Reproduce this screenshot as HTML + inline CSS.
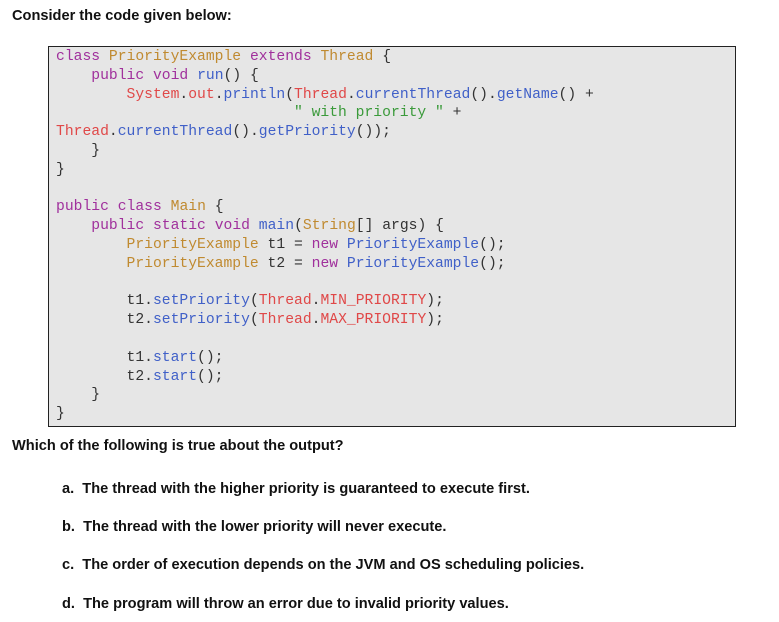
<!DOCTYPE html>
<html><head><style>
body{margin:0;width:779px;height:622px;background:#fff;position:relative;font-family:"Liberation Sans",sans-serif;}
.t{position:absolute;font-weight:bold;font-size:14.6px;color:#111;white-space:nowrap;line-height:18px}
#box{position:absolute;left:48px;top:46px;width:686px;height:379px;border:1px solid #222;background:#e6e6e6;}
pre{margin:0;position:absolute;left:7px;top:1px;font-family:"Liberation Mono",monospace;font-size:14.7px;line-height:18.8px;color:#333}
.k{color:#a0309c}.c{color:#c08a30}.r{color:#e04848}.b{color:#4060c8}.g{color:#3a9a3a}
</style></head><body>
<div class="t" style="left:12px;top:7px">Consider the code given below:</div>
<div id="box"><pre><span class="k">class</span> <span class="c">PriorityExample</span> <span class="k">extends</span> <span class="c">Thread</span> {
    <span class="k">public</span> <span class="k">void</span> <span class="b">run</span>() {
        <span class="r">System</span>.<span class="r">out</span>.<span class="b">println</span>(<span class="r">Thread</span>.<span class="b">currentThread</span>().<span class="b">getName</span>() +
                           <span class="g">" with priority "</span> +
<span class="r">Thread</span>.<span class="b">currentThread</span>().<span class="b">getPriority</span>());
    }
}

<span class="k">public</span> <span class="k">class</span> <span class="c">Main</span> {
    <span class="k">public</span> <span class="k">static</span> <span class="k">void</span> <span class="b">main</span>(<span class="c">String</span>[] args) {
        <span class="c">PriorityExample</span> t1 = <span class="k">new</span> <span class="b">PriorityExample</span>();
        <span class="c">PriorityExample</span> t2 = <span class="k">new</span> <span class="b">PriorityExample</span>();

        t1.<span class="b">setPriority</span>(<span class="r">Thread</span>.<span class="r">MIN_PRIORITY</span>);
        t2.<span class="b">setPriority</span>(<span class="r">Thread</span>.<span class="r">MAX_PRIORITY</span>);

        t1.<span class="b">start</span>();
        t2.<span class="b">start</span>();
    }
}</pre></div>
<div class="t" style="left:12px;top:437px">Which of the following is true about the output?</div>
<div class="t" style="left:62px;top:480px">a.&nbsp; The thread with the higher priority is guaranteed to execute first.</div>
<div class="t" style="left:62px;top:518px">b.&nbsp; The thread with the lower priority will never execute.</div>
<div class="t" style="left:62px;top:556px">c.&nbsp; The order of execution depends on the JVM and OS scheduling policies.</div>
<div class="t" style="left:62px;top:595px">d.&nbsp; The program will throw an error due to invalid priority values.</div>
</body></html>
